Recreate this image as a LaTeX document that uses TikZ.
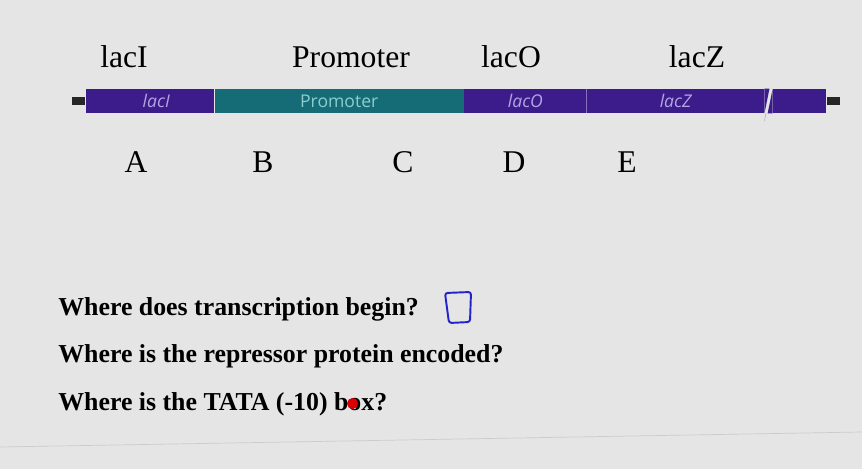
\documentclass[tikz,border=0pt]{standalone}
\usepackage{fontspec}
\setmainfont{Liberation Serif}
\newfontfamily\barfont{Open Sans}
\usepackage[dvipsnames,svgnames]{xcolor}
\usepackage{tkz-euclide}
\usetikzlibrary{positioning}
\definecolor{lacpurple}{RGB}{60,28,138}
\definecolor{lacteal}{RGB}{22,108,118}
\definecolor{lablav}{RGB}{180,165,225}
\definecolor{labteal}{RGB}{140,205,205}
\definecolor{screen}{RGB}{229,229,229}
\definecolor{penblue}{RGB}{35,35,200}

\begin{document}
\begin{tikzpicture}[
   seg/.style={inner sep=0pt,minimum height=0.48cm,fill=lacpurple,text=lablav,
      font=\barfont\fontsize{10}{12}\selectfont\itshape},
   stub/.style={fill=black!85,inner sep=0pt,minimum width=0.26cm,minimum height=0.17cm},
   big/.style={font=\fontsize{18}{20}\selectfont},
   quest/.style={anchor=base west,inner sep=0pt,font=\bfseries\fontsize{14.7}{18}\selectfont}]
   % screen
   \fill[screen] (0,0) rectangle (17.24,9.38);
   \useasboundingbox (0,0) rectangle (17.24,9.38);
   \draw[gray!40,thin] (0,0.44) -- (17.24,0.74);
   % the gene bar
   \node[seg,minimum width=2.56cm] (lacIbar) at (3.00,7.36) {\hspace{0.25cm}lacI};
   \node[seg,fill=lacteal,text=labteal,font=\barfont\fontsize{10}{12}\selectfont,
      minimum width=4.98cm,right=0pt of lacIbar] (prombar) {Promoter};
   \node[seg,minimum width=2.44cm,right=0pt of prombar] (lacObar) {lacO};
   \node[seg,minimum width=3.54cm,right=0pt of lacObar] (lacZbar) {lacZ};
   \node[seg,minimum width=1.06cm] (tailbar) at (15.99,7.36) {};
   \node[stub,left=0pt of lacIbar] (stubL) {};
   \node[stub,right=0pt of tailbar] (stubR) {};
   \draw[lablav!60!lacpurple,thin] (lacObar.north east) -- (lacObar.south east);
   \fill[lacpurple] (lacZbar.south east) -- (lacZbar.north east) -- ++(0.10,0) -- cycle;
   \fill[lacpurple] (tailbar.north west) -- (tailbar.south west) -- ++(-0.10,0) -- cycle;
   \draw[gray!55,thin] (15.29,6.96) -- (15.32,7.12);
   % labels over the bar
   \node[big] (lacItop) at (2.48,8.24) {lacI};
   \node[big] (promtop) at (7.02,8.24) {Promoter};
   \node[big] (lacOtop) at (10.22,8.24) {lacO};
   \node[big] (lacZtop) at (13.94,8.24) {lacZ};
   % sites
   \node[big] (A) at (2.72,6.14) {A};
   \node[big] (B) at (5.26,6.14) {B};
   \node[big] (C) at (8.06,6.14) {C};
   \node[big] (D) at (10.28,6.14) {D};
   \node[big] (E) at (12.54,6.14) {E};
   % questions
   \node[quest] (q1) at (1.16,3.08) {Where does transcription begin?};
   \node[quest] (q2) at (1.16,2.14) {Where is the repressor protein encoded?};
   \node[quest] (q3) at (1.16,1.18) {Where is the TATA (-10) box?};
   % answer box
   \tkzDefPoint(8.90,3.52){P}
   \tkzDefPoint(9.42,3.54){Q}
   \tkzDefPoint(9.40,2.94){R}
   \tkzDefPoint(8.98,2.92){S}
   \draw[penblue,line width=1.1pt,rounded corners=1.5pt] (P) -- (Q) -- (R) -- (S) -- cycle;
   \fill[red!85!black] (7.05,1.31) circle (0.11);
\end{tikzpicture}
\end{document}
